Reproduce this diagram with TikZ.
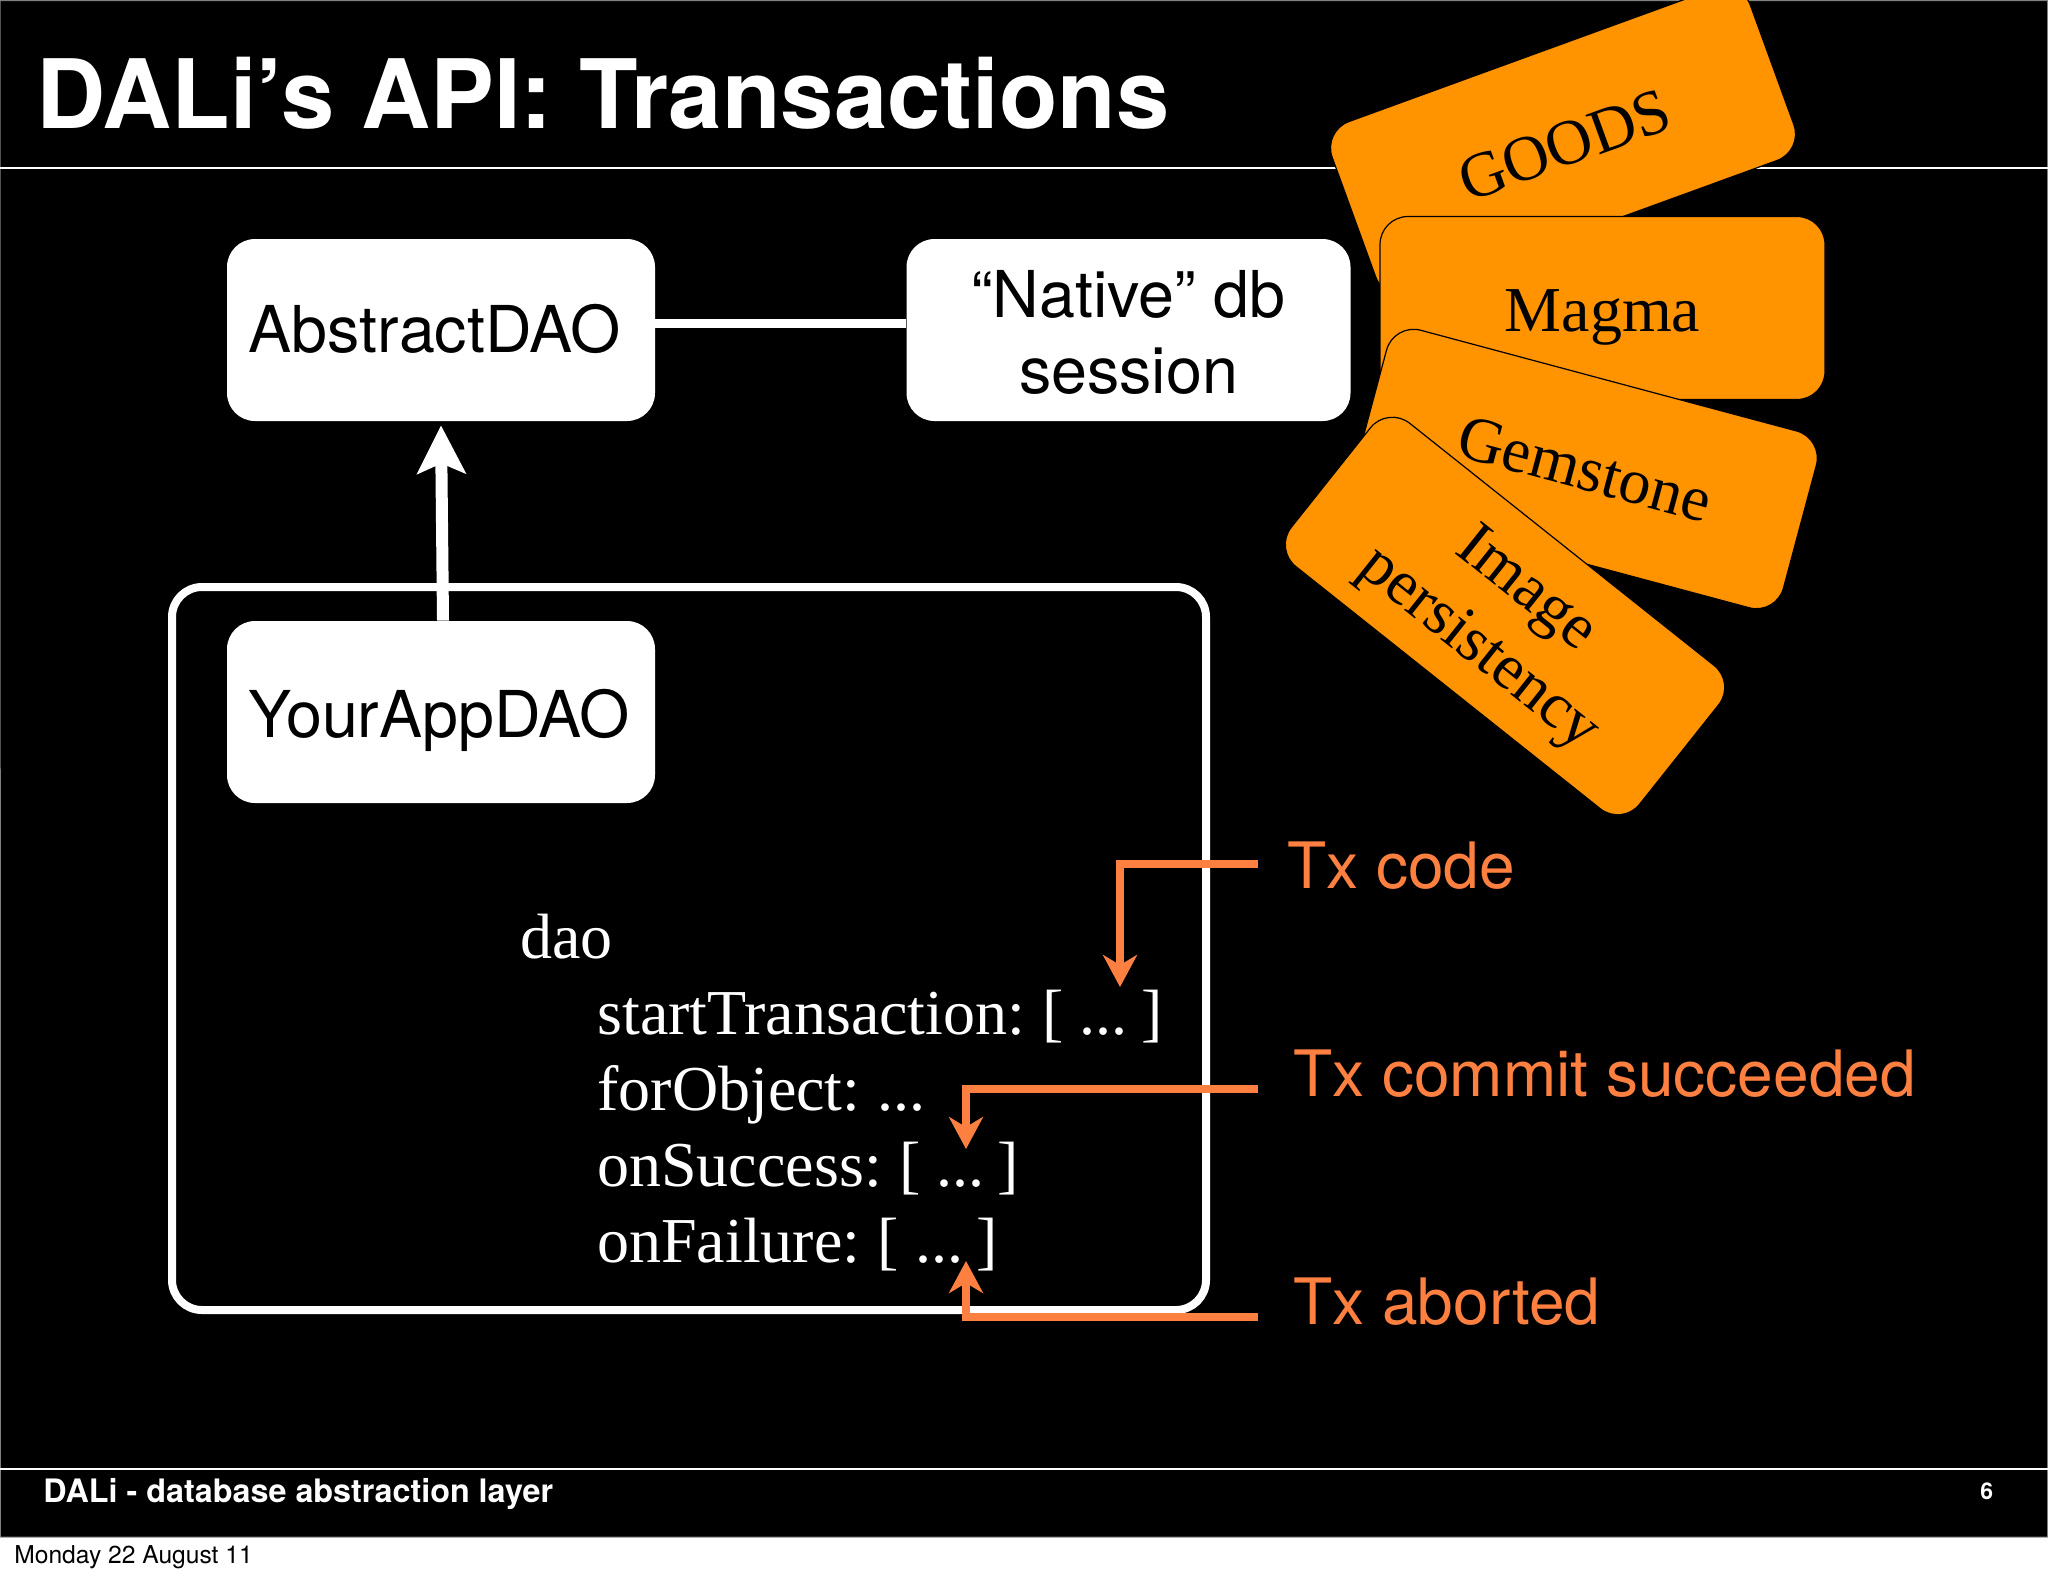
\documentclass[tikz,border=0pt]{standalone}
\usepackage{fontspec}
\setmainfont{Liberation Serif}
\newfontfamily\hv{TeX Gyre Heros}
\usetikzlibrary{arrows.meta,calc}
\definecolor{cardorange}{HTML}{FF9300}
\definecolor{txorange}{HTML}{FD8040}
\newcommand{\lowered}[2]{\raisebox{-#1}[\height][\depth]{#2}}
\newcommand{\brk}{[ \hspace{2pt}... \hspace{-2pt}]}
\tikzset{
  card/.style={draw=black,line width=0.6pt,fill=cardorange,rounded corners=14pt,minimum width=222.5pt,minimum height=91.5pt,inner sep=0pt,align=center,text=black,font=\fontsize{32}{40}\selectfont},
  whitebox/.style={fill=white,rounded corners=14pt,minimum width=214pt,minimum height=91pt,inner sep=0pt,text=black,font=\hv\fontsize{32.3}{38}\selectfont},
  txlabel/.style={anchor=base west,inner sep=0pt,text=txorange,font=\hv\fontsize{32}{38}\selectfont},
  codeline/.style={anchor=base west,inner sep=0pt,text=white,font=\fontsize{32}{38}\selectfont,execute at begin node={\spaceskip=6pt\relax}},
  txarrow/.style={draw=txorange,line width=4pt,-{Stealth[length=16pt,width=17pt,inset=5pt]}}
}
\begin{document}
\begin{tikzpicture}[x=0.5pt,y=-0.5pt]
\clip (0,0) rectangle (2048,1576);
\fill[white] (0,0) rectangle (2048,1576);
\fill[black] (0,0) rectangle (2048,1537);
\draw[gray,line width=0.5pt] (0,0.5) -- (2047.5,0.5) -- (2047.5,1537) -- (0.5,1537) -- cycle;
% rules
\coordinate (ruleL) at (0,168);
\coordinate (ruleR) at (2048,168);
\draw[white,line width=0.8pt] (ruleL) -- (ruleR);
\coordinate (footL) at (0,1469);
\coordinate (footR) at (2048,1469);
\draw[white,line width=1.2pt] (footL) -- (footR);
% title and footer
\node[anchor=base west,inner sep=0pt,text=white,font=\hv\bfseries\fontsize{47.9}{56}\selectfont] (title) at (36,128) {DALi’s API: Transactions};
\node[anchor=base west,inner sep=0pt,text=white,font=\hv\bfseries\fontsize{16.15}{18}\selectfont] (foot) at (43,1502) {DALi - database abstraction layer};
\node[anchor=base west,inner sep=0pt,text=white,font=\hv\bfseries\fontsize{11.5}{14}\selectfont] (pagenum) at (1980,1499) {6};
\node[anchor=base west,inner sep=0pt,text=black,font=\hv\fontsize{12.3}{14}\selectfont] (date) at (14,1563) {Monday 22 August 11};
% cards
\node[card,rotate=20] (goods) at (1563,141) {\lowered{2.2pt}{GOODS}};
\node[card] (magma) at (1602.5,308) {\lowered{4.5pt}{Magma}};
\node[card,rotate=-15] (gem) at (1585,469) {Gemstone};
\node[card,rotate=-38.5] (img) at (1505,616) {\lowered{4pt}{Image}\\\lowered{2pt}{persistency}};
% big box
\draw[white,line width=4pt,rounded corners=15pt] (172,587) rectangle (1206,1310);
\coordinate (bigbox) at (172,587);
% white boxes
\node[whitebox,text width=192.5pt,inner xsep=10.75pt,align=left] (abs) at (441,330) {\lowered{-0.5pt}{AbstractDAO}};
\node[whitebox,minimum width=222pt,align=center] (native) at (1128.5,330) {\lowered{1.3pt}{“Native” db}\\\lowered{1pt}{session}};
\node[whitebox,text width=192.5pt,inner xsep=10.75pt,align=left] (your) at (441,712) {\lowered{4pt}{YourAppDAO}};
% connectors
\draw[white,line width=4.5pt] ($(abs.east)+(0,-7)$) -- ($(native.west)+(0,-7)$);
\draw[white,line width=6pt,-{Stealth[length=24pt,width=24pt,inset=5pt]}] ([xshift=1pt]your.north) -- ([yshift=-2pt]abs.south);
% code
\node[codeline] (l0) at (520,958) {dao};
\node[codeline] (l1) at (597,1034) {startTransaction: \brk};
\node[codeline] (l2) at (597,1110) {forObject: ...};
\node[codeline] (l3) at (597,1186) {onSuccess: \brk};
\node[codeline] (l4) at (597,1262) {onFailure: \brk};
% tx labels
\node[txlabel] (txc) at (1287,888) {Tx code};
\node[txlabel] (txs) at (1293,1096) {Tx commit succeeded};
\node[txlabel] (txa) at (1293,1324) {Tx aborted};
% tx arrows
\coordinate (c1s) at (1258,864); \coordinate (c1t) at (1120,987);
\coordinate (c2s) at (1258,1089); \coordinate (c2t) at (966,1149);
\coordinate (c3s) at (1258,1317); \coordinate (c3t) at (966,1261);
\draw[txarrow] (c1s) -| (c1t);
\draw[txarrow] (c2s) -| (c2t);
\draw[txarrow] (c3s) -| (c3t);
\end{tikzpicture}
\end{document}
